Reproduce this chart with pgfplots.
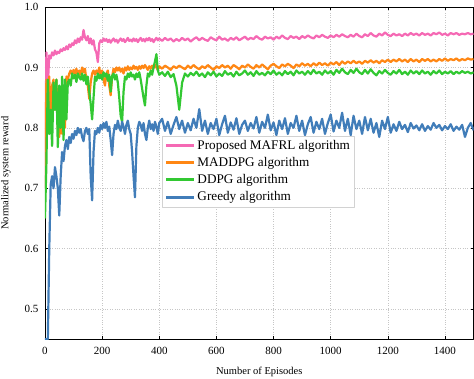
\documentclass[border=0pt]{standalone}
\usepackage{pgfplots}
\usepackage{pgfplotstable}
\pgfplotsset{compat=1.18}
\usepackage{fontspec}
\setmainfont{Liberation Serif}
\definecolor{cpink}{RGB}{245,105,180}
\definecolor{corange}{RGB}{255,135,20}
\definecolor{cgreen}{RGB}{50,200,50}
\definecolor{cblue}{RGB}{65,125,185}
\pgfplotstableread{
x P O G B
0 0.700 0.700 0.650 0.450
5 0.925 0.880 0.740 0.450
10 0.870 0.860 0.880 0.450
15 0.920 0.885 0.790 0.600
20 0.915 0.800 0.830 0.706
25 0.925 0.870 0.770 0.720
30 0.920 0.880 0.875 0.700
35 0.928 0.830 0.830 0.735
40 0.922 0.880 0.880 0.720
45 0.926 0.800 0.768 0.700
50 0.924 0.785 0.870 0.655
55 0.930 0.820 0.800 0.720
60 0.927 0.790 0.885 0.760
65 0.932 0.870 0.780 0.745
70 0.929 0.800 0.880 0.770
75 0.935 0.885 0.814 0.780
80 0.930 0.880 0.875 0.765
85 0.938 0.890 0.880 0.785
90 0.934 0.895 0.870 0.775
95 0.940 0.888 0.890 0.790
100 0.937 0.896 0.882 0.782
105 0.945 0.890 0.888 0.795
110 0.940 0.898 0.876 0.788
115 0.948 0.885 0.890 0.800
120 0.942 0.895 0.884 0.792
125 0.950 0.888 0.880 0.798
130 0.946 0.900 0.890 0.785
135 0.962 0.892 0.878 0.778
140 0.950 0.898 0.888 0.795
145 0.945 0.880 0.872 0.800
150 0.952 0.870 0.885 0.790
155 0.940 0.848 0.860 0.798
160 0.948 0.875 0.840 0.720
165 0.938 0.890 0.814 0.680
170 0.945 0.895 0.850 0.760
175 0.930 0.888 0.885 0.795
180 0.925 0.895 0.878 0.790
185 0.909 0.890 0.890 0.800
190 0.940 0.900 0.882 0.792
195 0.945 0.885 0.888 0.805
200 0.942 0.895 0.880 0.798
205 0.948 0.880 0.892 0.808
210 0.944 0.870 0.885 0.800
215 0.947 0.890 0.890 0.810
220 0.942 0.895 0.878 0.795
225 0.946 0.870 0.888 0.802
230 0.941 0.854 0.860 0.780
235 0.945 0.885 0.886 0.755
240 0.948 0.898 0.890 0.790
245 0.943 0.892 0.880 0.805
250 0.946 0.900 0.888 0.798
255 0.941 0.895 0.875 0.812
260 0.945 0.900 0.850 0.800
265 0.948 0.893 0.820 0.795
270 0.944 0.898 0.810 0.810
275 0.947 0.890 0.860 0.802
280 0.942 0.900 0.885 0.790
285 0.945 0.895 0.880 0.805
290 0.949 0.902 0.890 0.812
295 0.944 0.896 0.884 0.798
300 0.946 0.900 0.892 0.790
305 0.943 0.897 0.885 0.760
310 0.948 0.903 0.888 0.720
315 0.944 0.898 0.880 0.685
320 0.947 0.901 0.890 0.770
325 0.942 0.896 0.884 0.800
330 0.946 0.902 0.892 0.810
335 0.949 0.898 0.880 0.805
340 0.944 0.903 0.865 0.795
345 0.947 0.899 0.850 0.808
350 0.943 0.904 0.837 0.790
355 0.948 0.900 0.870 0.780
360 0.945 0.896 0.890 0.800
365 0.949 0.902 0.885 0.812
370 0.944 0.898 0.895 0.798
375 0.947 0.903 0.888 0.806
380 0.942 0.899 0.900 0.795
385 0.946 0.905 0.910 0.810
390 0.949 0.900 0.922 0.802
395 0.945 0.896 0.895 0.790
400 0.948 0.902 0.888 0.808
410 0.944 0.898 0.892 0.815
420 0.949 0.903 0.886 0.795
430 0.945 0.900 0.893 0.810
440 0.948 0.896 0.884 0.790
450 0.943 0.902 0.889 0.805
460 0.947 0.899 0.870 0.818
470 0.944 0.903 0.830 0.798
480 0.949 0.900 0.875 0.812
490 0.945 0.897 0.890 0.792
500 0.948 0.903 0.885 0.808
510 0.943 0.899 0.891 0.796
520 0.947 0.904 0.887 0.815
530 0.950 0.900 0.893 0.800
540 0.945 0.897 0.886 0.831
550 0.949 0.902 0.890 0.795
560 0.946 0.899 0.884 0.812
570 0.944 0.904 0.892 0.790
580 0.950 0.900 0.887 0.808
590 0.947 0.896 0.893 0.798
600 0.945 0.902 0.885 0.815
610 0.951 0.899 0.890 0.788
620 0.946 0.904 0.886 0.806
630 0.948 0.900 0.894 0.820
640 0.944 0.903 0.888 0.792
650 0.949 0.898 0.891 0.809
660 0.946 0.904 0.885 0.797
670 0.950 0.901 0.893 0.816
680 0.945 0.897 0.887 0.790
690 0.948 0.903 0.890 0.805
700 0.951 0.900 0.895 0.812
710 0.946 0.905 0.888 0.795
720 0.949 0.901 0.892 0.808
730 0.947 0.898 0.886 0.799
740 0.952 0.904 0.894 0.818
750 0.948 0.900 0.888 0.792
760 0.946 0.905 0.891 0.810
770 0.951 0.901 0.887 0.800
780 0.948 0.897 0.893 0.822
790 0.950 0.903 0.889 0.796
800 0.946 0.906 0.895 0.809
810 0.951 0.902 0.888 0.788
820 0.948 0.899 0.892 0.812
830 0.953 0.905 0.887 0.798
840 0.949 0.902 0.894 0.816
850 0.947 0.906 0.889 0.790
860 0.952 0.903 0.893 0.808
870 0.949 0.899 0.887 0.800
880 0.951 0.905 0.895 0.820
890 0.947 0.902 0.890 0.795
900 0.952 0.907 0.893 0.812
910 0.949 0.903 0.888 0.788
920 0.953 0.906 0.894 0.806
930 0.950 0.902 0.889 0.818
940 0.948 0.907 0.896 0.792
950 0.953 0.903 0.890 0.810
960 0.950 0.908 0.893 0.798
970 0.954 0.904 0.888 0.815
980 0.951 0.907 0.895 0.790
990 0.949 0.903 0.890 0.808
1000 0.953 0.908 0.894 0.822
1010 0.950 0.905 0.888 0.794
1020 0.954 0.909 0.896 0.812
1030 0.951 0.904 0.891 0.800
1040 0.955 0.910 0.898 0.825
1050 0.952 0.906 0.892 0.795
1060 0.950 0.910 0.889 0.815
1070 0.954 0.907 0.896 0.788
1080 0.951 0.911 0.891 0.820
1090 0.956 0.907 0.898 0.798
1100 0.952 0.910 0.892 0.812
1110 0.950 0.906 0.889 0.790
1120 0.955 0.911 0.896 0.818
1130 0.952 0.908 0.890 0.796
1140 0.957 0.912 0.897 0.815
1150 0.953 0.908 0.891 0.792
1160 0.951 0.911 0.887 0.808
1170 0.956 0.907 0.894 0.785
1180 0.953 0.912 0.890 0.812
1190 0.958 0.909 0.896 0.798
1200 0.954 0.913 0.891 0.818
1210 0.952 0.909 0.888 0.792
1220 0.956 0.913 0.894 0.806
1230 0.953 0.910 0.890 0.795
1240 0.955 0.914 0.896 0.810
1250 0.952 0.910 0.889 0.798
1260 0.956 0.913 0.893 0.805
1270 0.953 0.909 0.888 0.793
1280 0.957 0.914 0.895 0.808
1290 0.954 0.910 0.890 0.799
1300 0.956 0.913 0.894 0.804
1310 0.953 0.909 0.889 0.796
1320 0.957 0.914 0.895 0.806
1330 0.954 0.911 0.890 0.795
1340 0.956 0.914 0.893 0.803
1350 0.953 0.910 0.888 0.797
1360 0.957 0.913 0.894 0.808
1370 0.955 0.910 0.890 0.800
1380 0.958 0.914 0.895 0.805
1390 0.954 0.911 0.889 0.796
1400 0.956 0.915 0.893 0.803
1410 0.953 0.911 0.890 0.798
1420 0.957 0.914 0.894 0.806
1430 0.955 0.912 0.889 0.795
1440 0.957 0.915 0.893 0.802
1450 0.954 0.911 0.890 0.797
1460 0.956 0.914 0.894 0.805
1470 0.955 0.912 0.891 0.785
1480 0.957 0.915 0.893 0.800
1490 0.955 0.913 0.890 0.808
1500 0.956 0.914 0.892 0.796
}\data
\begin{document}
\begin{tikzpicture}
\begin{axis}[
  scale only axis,
  width=427bp, height=331bp,
  xmin=0, xmax=1500, ymin=0.45, ymax=1.0,
  xtick={0,200,...,1400},
  ytick={0.5,0.6,0.7,0.8,0.9,1.0},
  /pgf/number format/assume math mode=true,
  tick label style={font=\fontsize{11}{13}\selectfont},
  xticklabel style={yshift=-4bp, /pgf/number format/set thousands separator={}},
  yticklabel style={xshift=-3bp, /pgf/number format/fixed, /pgf/number format/fixed zerofill, /pgf/number format/precision=1},
  xlabel={Number of Episodes},
  ylabel={Normalized system reward},
  xlabel style={font=\fontsize{10.5}{12}\selectfont, at={(axis description cs:0.5,0)}, anchor=south, yshift=-39bp, inner sep=1bp},
  ylabel style={font=\fontsize{10.5}{12}\selectfont, at={(axis description cs:-0.1054,0.5)}, anchor=north, inner sep=1bp},
  grid=major,
  grid style={gray!45, dotted, line width=0.6pt},
  axis line style={black, line width=0.9pt},
  major tick length=3pt,
  every tick/.style={black, line width=0.6pt},
  legend style={at={(0.274,0.613)}, anchor=north west, draw=gray!35, fill=white, font=\fontsize{13.2}{14.5}\selectfont, row sep=2.5pt, inner xsep=2pt, inner ysep=2.5pt},
  legend cell align=left,
  legend image code/.code={\draw[#1, line width=3pt] (0cm,0cm) -- (0.98cm,0cm);},
  line join=round,
]
\addplot[cpink, line width=2.2pt] table[x=x, y=P] {\data};
\addlegendentry{Proposed MAFRL algorithm\hspace{12pt}}
\addplot[corange, line width=2.2pt] table[x=x, y=O] {\data};
\addlegendentry{MADDPG algorithm}
\addplot[cgreen, line width=2.2pt] table[x=x, y=G] {\data};
\addlegendentry{DDPG algorithm}
\addplot[cblue, line width=2.2pt] table[x=x, y=B] {\data};
\addlegendentry{Greedy algorithm}
\end{axis}
\end{tikzpicture}
\end{document}
